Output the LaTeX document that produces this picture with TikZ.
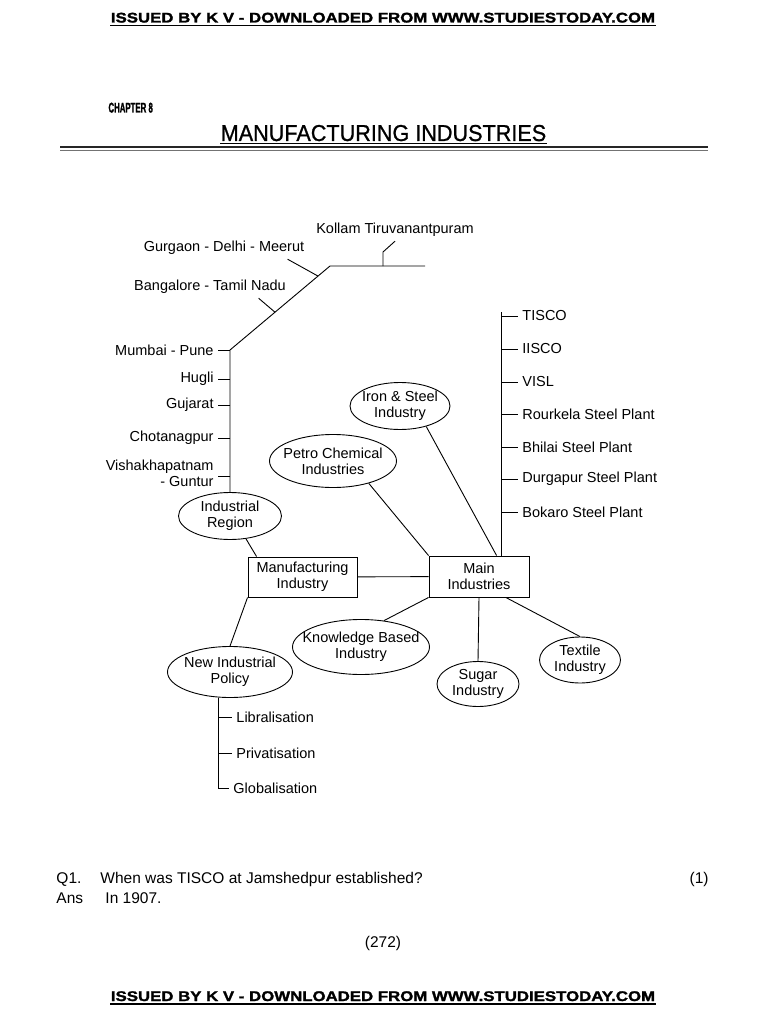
\documentclass[tikz,border=0pt]{standalone}
\usepackage{fontspec}
\setmainfont{Liberation Sans}
\newfontfamily\heavyfont{Liberation Sans}[BoldFeatures={FakeBold=1.6}]
\newfontfamily\titlefont{Liberation Sans}[FakeBold=0.9]
\usepackage{tikz}
\usetikzlibrary{positioning}
\usetikzlibrary{shapes,calc}
\tikzset{oval node/.style={ellipse,draw,inner sep=0pt},
	box node/.style={rectangle,draw,inner sep=0pt,align=center},
	oval text/.style={align=center,inner sep=0pt},
	place label/.style={inner sep=4pt},}
\newcommand{\diagfont}{\fontsize{14.5}{16}\selectfont}
\newcommand{\pagefont}{\fontsize{15.5}{18}\selectfont}
\newcommand{\issuedline}{\heavyfont\bfseries\fontsize{14}{16}\selectfont\scalebox{1.2}[1]{ISSUED BY K V - DOWNLOADED FROM WWW.STUDIESTODAY.COM}}

\begin{document}
\begin{tikzpicture}[x=1pt, y=-1pt, line width=0.9pt, font=\diagfont]
	\useasboundingbox (0,0) rectangle (768,1024);

	% page head
	\node[inner sep=0pt, anchor=base] (issued top) at (383,22.5) {\issuedline};
	\draw[line width=1.2pt] ([yshift=-3pt]issued top.base west) -- ([yshift=-3pt]issued top.base east);
	\node[inner sep=0pt, anchor=base west] (chapter) at (108,112.5) {\heavyfont\bfseries\fontsize{14}{16}\selectfont\scalebox{0.56}[1]{CHAPTER 8}};
	\node[inner sep=0pt, anchor=base] (title) at (383.5,141) {\titlefont\fontsize{23}{26}\selectfont\scalebox{0.94}[1]{MANUFACTURING INDUSTRIES}};
	\draw[line width=1pt] ([yshift=-2.5pt]title.base west) -- ([yshift=-2.5pt]title.base east);
	\draw[line width=1.3pt, black!85] (60,147) -- (708,147);
	\draw[line width=1pt, black!55] (60,151) -- (708,151);

	% main nodes
	\node[box node, minimum width=109pt, minimum height=40pt] (mfg) at (302.5,577) {Manufacturing\\Industry};
	\node[box node, minimum width=100pt, minimum height=41pt] (main) at (479,576.5) {Main\\Industries};
	\node[oval node, minimum width=103pt, minimum height=47pt, label={[oval text]center:{Industrial\\Region}}] (indreg) at (230,516) {};
	\node[oval node, minimum width=100pt, minimum height=47pt, label={[oval text]center:{Iron \& Steel\\Industry}}] (iron) at (400,406) {};
	\node[oval node, minimum width=127pt, minimum height=53pt, label={[oval text]center:{Petro Chemical\\Industries}}] (petro) at (333,461) {};
	\node[oval node, minimum width=125pt, minimum height=51pt, label={[oval text]center:{New Industrial\\Policy}}] (nip) at (230,672) {};
	\node[oval node, minimum width=137pt, minimum height=55pt, label={[oval text]center:{Knowledge Based\\Industry}}] (know) at (361,647) {};
	\node[oval node, minimum width=82pt, minimum height=45pt, label={[oval text]center:{Sugar\\Industry}}] (sugar) at (478,684) {};
	\node[oval node, minimum width=81pt, minimum height=46pt, label={[oval text]center:{Textile\\Industry}}] (textile) at (580,660) {};

	\path[draw]
	(indreg.-55) edge (mfg.156)
	(mfg) edge (main)
	(mfg.south west) edge (nip.north)
	(iron.-38) edge (main.50)
	(petro.-32) edge (main.north west)
	(main.south west) edge (know.49)
	(main.south) edge (sugar.north)
	(main.-38) edge (textile.north);

	% industrial regions
	\coordinate (mumbai tick) at (230,350);
	\coordinate (hugli tick) at (230,379);
	\coordinate (gujarat tick) at (230,405);
	\coordinate (chota tick) at (230,438);
	\coordinate (vishakha tick) at (230,476);
	\coordinate (bend) at (330,266);
	\coordinate (rail end) at (425,266);
	\coordinate (kollam junction) at (383,266);
	\coordinate (kollam bend) at (383,252);
	\draw (indreg.north) -- (mumbai tick) -- (bend) -- (rail end);

	\node[place label, left=12pt of mumbai tick] (mumbai) {Mumbai - Pune};
	\node[place label, left=12pt of hugli tick] (hugli) {Hugli};
	\node[place label, left=12pt of gujarat tick] (gujarat) {Gujarat};
	\node[place label, left=12pt of chota tick] (chota) {Chotanagpur};
	\node[place label, align=right, left=12pt of vishakha tick, yshift=2.5pt] (vishakha) {Vishakhapatnam\\- Guntur};
	\node[place label] (bangalore) at (210,287) {Bangalore - Tamil Nadu};
	\node[place label] (gurgaon) at (224,248) {Gurgaon - Delhi - Meerut};
	\node[place label] (kollam) at (395,230) {Kollam Tiruvanantpuram};

	\draw (mumbai tick) -- (mumbai.east);
	\draw (hugli tick) -- (hugli.east);
	\draw (gujarat tick) -- (gujarat.east);
	\draw (chota tick) -- (chota.east);
	\draw (vishakha tick) -- (vishakha.east |- vishakha tick);
	\draw (bangalore.-13) -- ($(mumbai tick)!0.45!(bend)$);
	\draw (gurgaon.-10) -- ($(mumbai tick)!0.88!(bend)$);
	\draw (kollam junction) -- (kollam bend) -- (kollam.south);

	% steel plants
	\coordinate (steel top) at (501,312);
	\coordinate (tisco tick) at (501,316);
	\coordinate (iisco tick) at (501,349);
	\coordinate (visl tick) at (501,382);
	\coordinate (rourkela tick) at (501,414);
	\coordinate (bhilai tick) at (501,447);
	\coordinate (durgapur tick) at (501,479);
	\coordinate (bokaro tick) at (501,512);
	\draw (steel top) -- (steel top |- main.north);

	\node[place label, right=17pt of tisco tick] (tisco) {TISCO};
	\node[place label, right=17pt of iisco tick] (iisco) {IISCO};
	\node[place label, right=17pt of visl tick] (visl) {VISL};
	\node[place label, right=17pt of rourkela tick] (rourkela) {Rourkela Steel Plant};
	\node[place label, right=17pt of bhilai tick] (bhilai) {Bhilai Steel Plant};
	\node[place label, right=17pt of durgapur tick] (durgapur) {Durgapur Steel Plant};
	\node[place label, right=17pt of bokaro tick] (bokaro) {Bokaro Steel Plant};

	\draw (tisco tick) -- (tisco.west);
	\draw (iisco tick) -- (iisco.west);
	\draw (visl tick) -- (visl.west);
	\draw (rourkela tick) -- (rourkela.west);
	\draw (bhilai tick) -- (bhilai.west);
	\draw (durgapur tick) -- (durgapur.west);
	\draw (bokaro tick) -- (bokaro.west);

	% policy
	\coordinate (lib tick) at (218,717);
	\coordinate (priv tick) at (218,753);
	\coordinate (glob tick) at (218,788);
	\node[place label, right=14pt of lib tick] (libralisation) {Libralisation};
	\node[place label, right=14pt of priv tick] (privatisation) {Privatisation};
	\node[place label, right=11pt of glob tick] (globalisation) {Globalisation};
	\draw (nip.south -| glob tick) -- (glob tick) -- (globalisation.west);
	\draw (lib tick) -- (libralisation.west);
	\draw (priv tick) -- (privatisation.west);

	% question
	\node[inner sep=0pt, anchor=base west, font=\pagefont] (q one) at (56,883) {Q1.};
	\node[inner sep=0pt, anchor=base west, font=\pagefont] (question) at (100,883) {When was TISCO at Jamshedpur established?};
	\node[inner sep=0pt, anchor=base east, font=\pagefont] (marks) at (709,883) {(1)};
	\node[inner sep=0pt, anchor=base west, font=\pagefont] (ans) at (56,903) {Ans};
	\node[inner sep=0pt, anchor=base west, font=\pagefont] (answer) at (105,903) {In 1907.};
	\node[inner sep=0pt, anchor=base, font=\pagefont] (page no) at (383,947) {(272)};

	% page foot
	\node[inner sep=0pt, anchor=base] (issued foot) at (383,1001) {\issuedline};
	\draw[line width=1.2pt] ([yshift=-3pt]issued foot.base west) -- ([yshift=-3pt]issued foot.base east);
\end{tikzpicture}
\end{document}
